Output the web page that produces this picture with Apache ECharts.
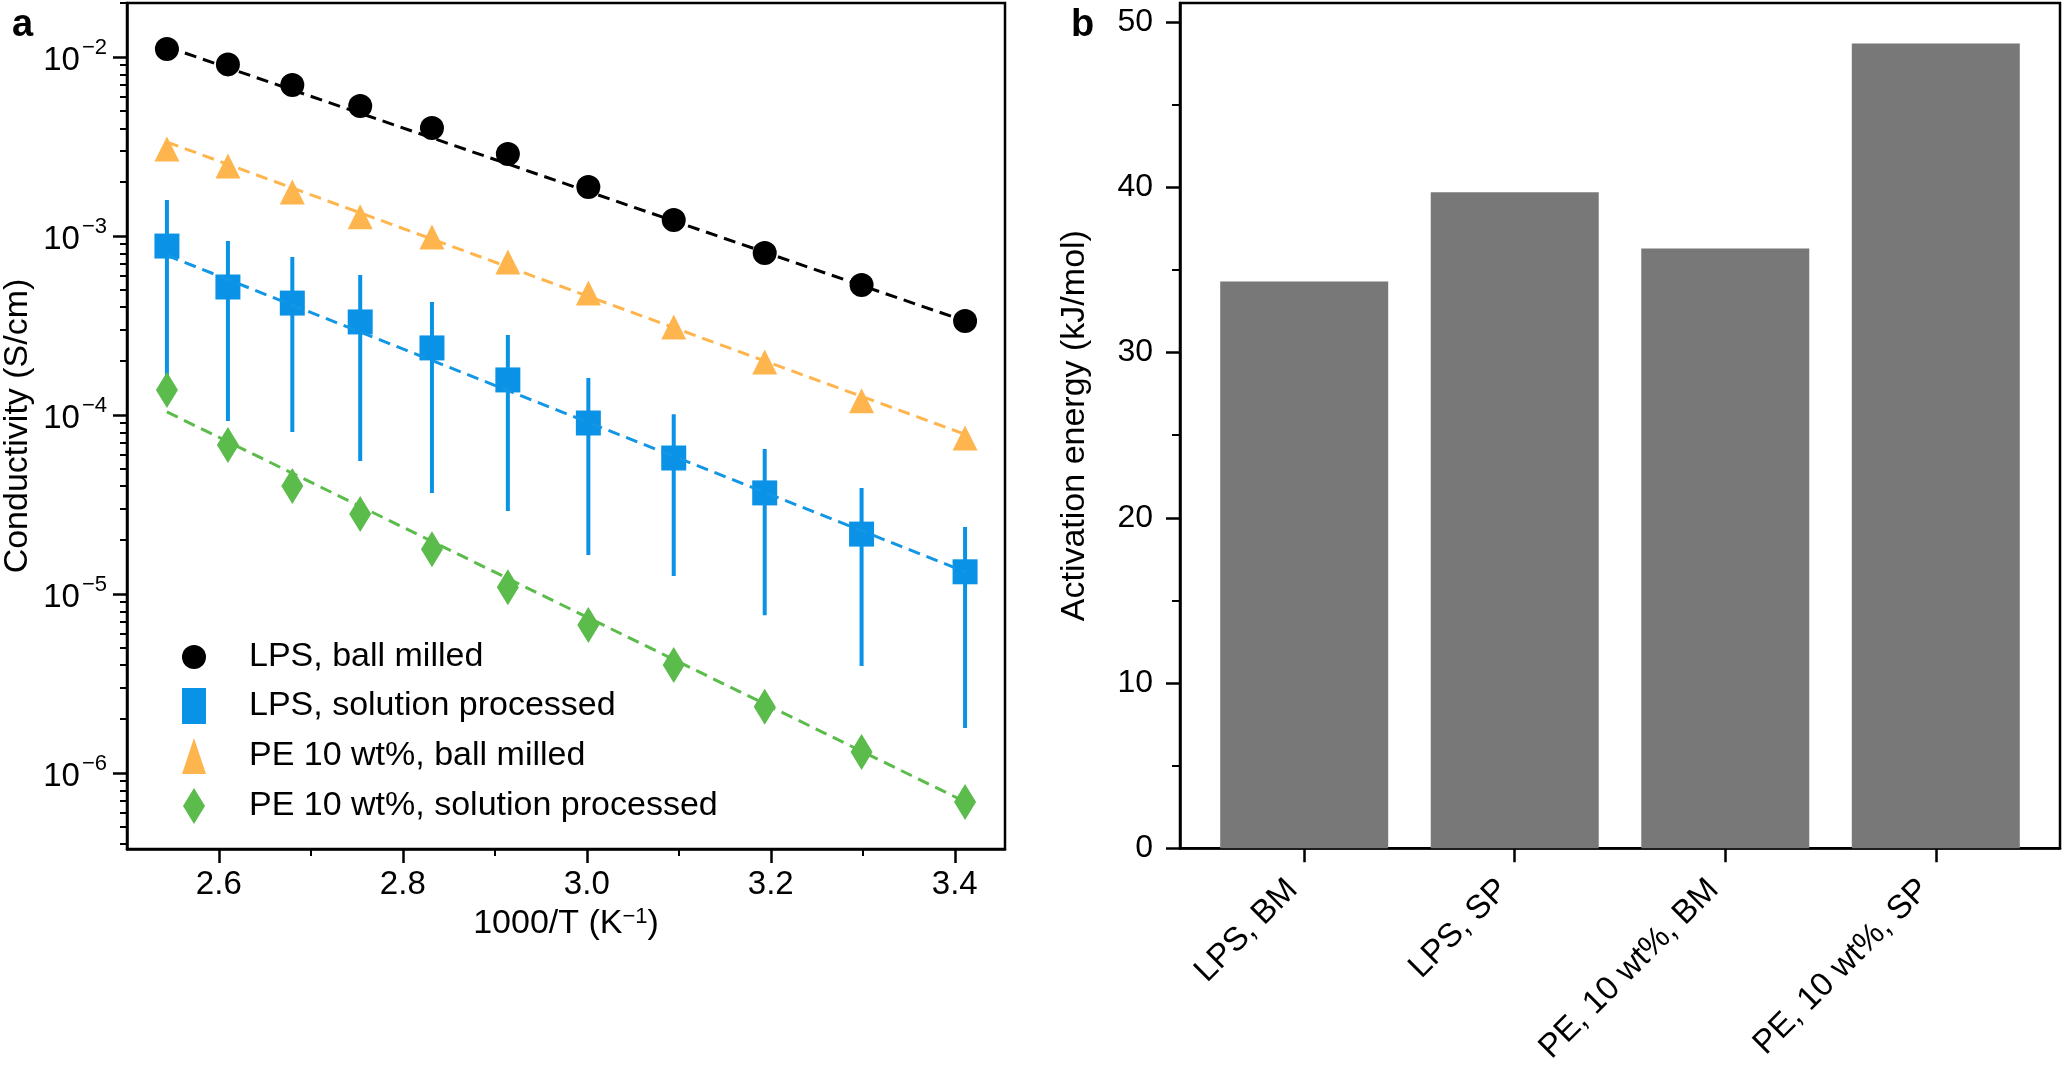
<!DOCTYPE html>
<html>
<head>
<meta charset="utf-8">
<script src="https://cdn.jsdelivr.net/npm/echarts@6/dist/echarts.min.js"></script>
<style>
  html, body { margin: 0; padding: 0; background: #fff; }
  #chart { width: 2064px; height: 1067px; }
</style>
</head>
<body>
<div id="chart"></div>
<script>
// 1000/T (K^-1), 120 C down to 20 C
const invT = [2.5436, 2.6099, 2.6799, 2.7537, 2.8317, 2.9142, 3.0017, 3.0945, 3.1934, 3.2987, 3.4112];

// conductivity (S/cm)
const lpsBM = [1.11e-2, 9.1e-3, 6.98e-3, 5.32e-3, 4.01e-3, 2.87e-3, 1.88e-3, 1.23e-3, 8.03e-4, 5.32e-4, 3.35e-4];
const lpsSP = [8.79e-4, 5.19e-4, 4.22e-4, 3.31e-4, 2.37e-4, 1.57e-4, 9.02e-5, 5.75e-5, 3.67e-5, 2.16e-5, 1.33e-5];
const lpsSPHigh = [1.59e-3, 9.37e-4, 7.64e-4, 6.06e-4, 4.28e-4, 2.80e-4, 1.61e-4, 1.01e-4, 6.46e-5, 3.91e-5, 2.37e-5];
const lpsSPLow = [1.6e-4, 9.25e-5, 8.03e-5, 5.53e-5, 3.66e-5, 2.91e-5, 1.65e-5, 1.26e-5, 7.6e-6, 3.96e-6, 1.78e-6];
const peBM = [3.06e-3, 2.46e-3, 1.76e-3, 1.28e-3, 9.86e-4, 7.16e-4, 4.81e-4, 3.10e-4, 1.98e-4, 1.20e-4, 7.44e-5];
const peSP = [1.38e-4, 6.80e-5, 4.01e-5, 2.80e-5, 1.78e-5, 1.09e-5, 6.71e-6, 4.01e-6, 2.34e-6, 1.31e-6, 6.89e-7];

// dashed Arrhenius fit lines (end points)
const fitX = [2.5436, 3.4112];
const fitLpsBM = [1.14e-2, 3.35e-4];
const fitLpsSP = [7.8e-4, 1.33e-5];
const fitPeBM = [3.35e-3, 7.8e-5];
const fitPeSP = [1.04e-4, 6.9e-7];

// panel b
const categories = ['LPS, BM', 'LPS, SP', 'PE, 10 wt%, BM', 'PE, 10 wt%, SP'];
const activation = [34.3, 39.7, 36.3, 48.7];

// tick values
const xTicksA = [2.6, 2.8, 3.0, 3.2, 3.4];
const xMinorA = [2.7, 2.9, 3.1, 3.3];
const yDecades = [-6, -5, -4, -3, -2];
const yTicksB = [0, 10, 20, 30, 40, 50];
const yMinorB = [5, 15, 25, 35, 45];

const names = ['LPS, ball milled', 'LPS, solution processed', 'PE 10 wt%, ball milled', 'PE 10 wt%, solution processed'];
const colors = ['#000000', '#0A93E6', '#FFB54D', '#5BBB4B'];
const font = 'Liberation Sans, Arial, sans-serif';
const diamondPath = 'path://M11,0L22,18L11,36L0,18Z';

const lg = v => Math.log10(v);
const yMinorA = [];
for (let n = -7; n <= -2; n++) {
    for (let k = 2; k <= 9; k++) {
        const v = Math.log10(k) + n;
        if (v > -6.425 && v < -1.698) yMinorA.push(v);
    }
}

const myChart = echarts.init(document.getElementById('chart'));

const axisLineStyle = { color: '#000', width: 2.5 };

const scatter = (name, vals, symbol, size, color) => ({
    name: name,
    type: 'scatter',
    xAxisIndex: 0,
    yAxisIndex: 0,
    symbol: symbol,
    symbolSize: size,
    itemStyle: { color: color, opacity: 1 },
    data: invT.map((x, i) => [x, lg(vals[i])]),
    z: 3
});

const fitLine = (name, vals, color) => ({
    name: name,
    type: 'line',
    xAxisIndex: 0,
    yAxisIndex: 0,
    showSymbol: false,
    symbol: 'none',
    lineStyle: { color: color, width: 3, type: [12, 7] },
    data: fitX.map((x, i) => [x, lg(vals[i])]),
    z: 4
});

const option = {
    animation: false,
    backgroundColor: '#fff',
    textStyle: { fontFamily: font },
    title: [
        { text: 'a', left: 7, top: 2, textStyle: { fontSize: 38, fontWeight: 'bold', color: '#000', fontFamily: font } },
        { text: 'b', left: 1066, top: 2, textStyle: { fontSize: 38, fontWeight: 'bold', color: '#000', fontFamily: font } }
    ],
    legend: {
        orient: 'vertical',
        left: 177,
        top: 635,
        itemWidth: 24,
        itemHeight: 36,
        itemGap: 14,
        selectedMode: false,
        data: [
            { name: names[0], icon: 'circle' },
            { name: names[1], icon: 'rect' },
            { name: names[2], icon: 'triangle' },
            { name: names[3], icon: diamondPath }
        ],
        formatter: n => '{t|' + n + '}',
        textStyle: {
            color: '#000',
            fontFamily: font,
            rich: { t: { fontSize: 34, lineHeight: 36, padding: [0, 0, 0, 38], color: '#000', fontFamily: font } }
        }
    },
    grid: [
        { left: 123, right: 1059, top: 3, bottom: 218, show: true, borderColor: '#000', borderWidth: 2.5, backgroundColor: 'transparent' },
        { left: 1180, right: 4, top: 3, bottom: 217, show: true, borderColor: '#000', borderWidth: 2.5, backgroundColor: 'transparent' }
    ],
    xAxis: [
        {
            type: 'value', gridIndex: 0, position: 'bottom', min: 2.5002, max: 3.4546,
            name: '1000/T (K{s|−1})', nameLocation: 'middle', nameGap: 56,
            nameTextStyle: { fontSize: 34, color: '#000', fontFamily: font,
                rich: { s: { fontSize: 22, verticalAlign: 'top', color: '#000', fontFamily: font, padding: [0, 0, 14, 0] } } },
            axisLine: { onZero: false, lineStyle: axisLineStyle },
            axisTick: { customValues: xTicksA, length: 14, lineStyle: { color: '#000', width: 2.5 } },
            axisLabel: { customValues: xTicksA, formatter: v => v.toFixed(1), fontSize: 33, color: '#000', margin: 19, fontFamily: font },
            splitLine: { show: false }
        },
        {
            type: 'value', gridIndex: 0, position: 'bottom', min: 2.5002, max: 3.4546,
            axisLine: { show: false, onZero: false },
            axisTick: { customValues: xMinorA, length: 7, lineStyle: { color: '#000', width: 2 } },
            axisLabel: { show: false },
            splitLine: { show: false }
        },
        {
            type: 'value', gridIndex: 1, position: 'bottom', min: -0.59, max: 3.59,
            axisLine: { onZero: false, lineStyle: axisLineStyle },
            axisTick: { customValues: [0, 1, 2, 3], length: 14, lineStyle: { color: '#000', width: 2.5 } },
            axisLabel: { customValues: [0, 1, 2, 3], formatter: v => categories[Math.round(v)], rotate: 45,
                align: 'right', verticalAlign: 'bottom',
                fontSize: 33, color: '#000', margin: 48, fontFamily: font },
            splitLine: { show: false }
        }
    ],
    yAxis: [
        {
            type: 'value', gridIndex: 0, position: 'left', min: -6.425, max: -1.698,
            name: 'Conductivity (S/cm)', nameLocation: 'middle', nameGap: 92,
            nameTextStyle: { fontSize: 34, color: '#000', fontFamily: font },
            axisLine: { onZero: false, lineStyle: axisLineStyle },
            axisTick: { customValues: yDecades, length: 14, lineStyle: { color: '#000', width: 2.5 } },
            axisLabel: {
                customValues: yDecades, margin: 20,
                formatter: v => '{b|10}{s|−' + Math.round(-v) + '}',
                rich: {
                    b: { fontSize: 33, color: '#000', fontFamily: font, verticalAlign: 'bottom', lineHeight: 40 },
                    s: { fontSize: 22, color: '#000', fontFamily: font, verticalAlign: 'top', lineHeight: 40, padding: [0, 0, 0, 2] }
                }
            },
            splitLine: { show: false }
        },
        {
            type: 'value', gridIndex: 0, position: 'left', min: -6.425, max: -1.698,
            axisLine: { show: false, onZero: false },
            axisTick: { customValues: yMinorA, length: 7, lineStyle: { color: '#000', width: 2 } },
            axisLabel: { show: false },
            splitLine: { show: false }
        },
        {
            type: 'value', gridIndex: 1, position: 'left', min: 0, max: 51.15,
            name: 'Activation energy (kJ/mol)', nameLocation: 'middle', nameGap: 88,
            nameTextStyle: { fontSize: 34, color: '#000', fontFamily: font },
            axisLine: { onZero: false, lineStyle: axisLineStyle },
            axisTick: { customValues: yTicksB, length: 14, lineStyle: { color: '#000', width: 2.5 } },
            axisLabel: { customValues: yTicksB, fontSize: 32, color: '#000', margin: 27, fontFamily: font },
            splitLine: { show: false }
        },
        {
            type: 'value', gridIndex: 1, position: 'left', min: 0, max: 51.15,
            axisLine: { show: false, onZero: false },
            axisTick: { customValues: yMinorB, length: 8, lineStyle: { color: '#000', width: 2 } },
            axisLabel: { show: false },
            splitLine: { show: false }
        }
    ],
    series: [
        {
            name: 'error',
            type: 'custom',
            xAxisIndex: 0,
            yAxisIndex: 0,
            data: invT.map((x, i) => [x, lg(lpsSPLow[i]), lg(lpsSPHigh[i])]),
            encode: { x: 0, y: [1, 2] },
            renderItem: (params, api) => {
                const p1 = api.coord([api.value(0), api.value(1)]);
                const p2 = api.coord([api.value(0), api.value(2)]);
                return {
                    type: 'line',
                    shape: { x1: p1[0], y1: p1[1], x2: p2[0], y2: p2[1] },
                    style: { stroke: colors[1], lineWidth: 4 }
                };
            },
            z: 2
        },
        scatter(names[0], lpsBM, 'circle', 24, colors[0]),
        scatter(names[1], lpsSP, 'rect', 25, colors[1]),
        scatter(names[2], peBM, 'triangle', 25, colors[2]),
        scatter(names[3], peSP, 'diamond', [22, 36], colors[3]),
        fitLine('fit1', fitLpsBM, colors[0]),
        fitLine('fit2', fitLpsSP, '#1496E6'),
        fitLine('fit3', fitPeBM, colors[2]),
        fitLine('fit4', fitPeSP, colors[3]),
        {
            name: 'Activation energy',
            type: 'bar',
            xAxisIndex: 2,
            yAxisIndex: 2,
            barWidth: 168,
            itemStyle: { color: '#787878' },
            data: categories.map((c, i) => [i, activation[i]])
        }
    ]
};

myChart.setOption(option);
window.addEventListener('resize', () => {
    myChart.resize();
});
</script>
</body>
</html>
